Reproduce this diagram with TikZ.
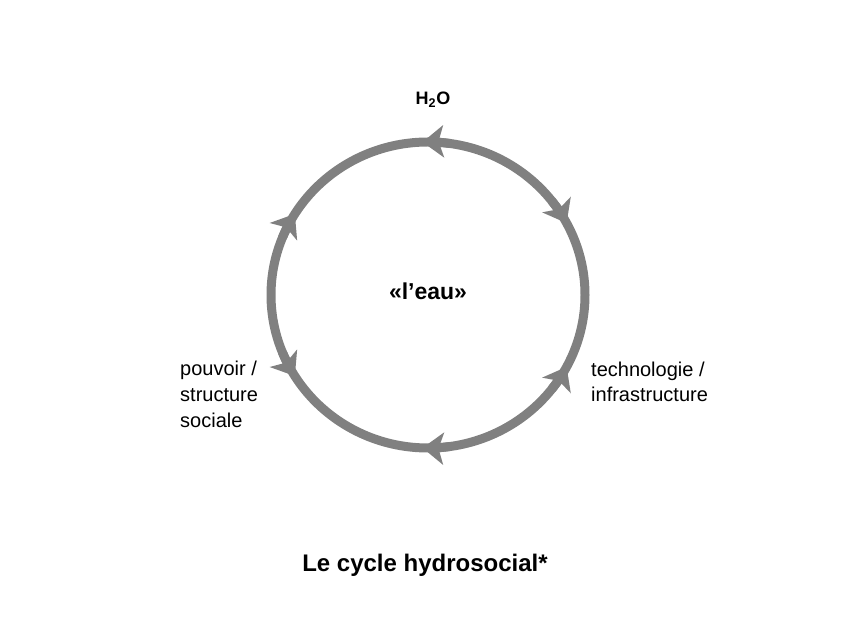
\documentclass[tikz,border=0pt]{standalone}
\usepackage{fontspec}
\setmainfont{Liberation Sans}
\usetikzlibrary{arrows.meta}
\definecolor{ring}{HTML}{808080}

\begin{document}
\begin{tikzpicture}[x=1pt, y=1pt, >={Stealth[length=21pt,width=32pt,inset=5pt]}]
    \useasboundingbox (0,0) rectangle (852,640);
    \coordinate (c) at (428,345);

    \draw[line width=9pt, color=ring] (c) ellipse (157 and 153);

    \draw[->, line width=9pt, color=ring] (c) ++(82:157 and 153) arc[start angle=82, end angle=92, x radius=157, y radius=153];
    \draw[->, line width=9pt, color=ring] (c) ++(38:157 and 153) arc[start angle=38, end angle=28, x radius=157, y radius=153];
    \draw[->, line width=9pt, color=ring] (c) ++(-38:157 and 153) arc[start angle=-38, end angle=-28, x radius=157, y radius=153];
    \draw[->, line width=9pt, color=ring] (c) ++(-82:157 and 153) arc[start angle=-82, end angle=-92, x radius=157, y radius=153];
    \draw[->, line width=9pt, color=ring] (c) ++(202:157 and 153) arc[start angle=202, end angle=212, x radius=157, y radius=153];
    \draw[->, line width=9pt, color=ring] (c) ++(158:157 and 153) arc[start angle=158, end angle=148, x radius=157, y radius=153];

    \node[anchor=base, font=\fontsize{18}{22}\selectfont\bfseries] (h2o) at (433,535) {H\textsubscript{2}O};
    \node[anchor=base, font=\fontsize{23}{28}\selectfont\bfseries] (eau) at (428,340) {«l’eau»};
    \node[anchor=base west, align=left, inner sep=0pt, font=\fontsize{20}{26}\selectfont] (pouvoir) at (180,212) {pouvoir /\\structure\\sociale};
    \node[anchor=base west, align=left, inner sep=0pt, font=\fontsize{20}{25}\selectfont] (techno) at (591,238) {technologie /\\infrastructure};
    \node[anchor=base, font=\fontsize{24}{29}\selectfont\bfseries] (title) at (425,68) {Le cycle hydrosocial*};
\end{tikzpicture}
\end{document}
